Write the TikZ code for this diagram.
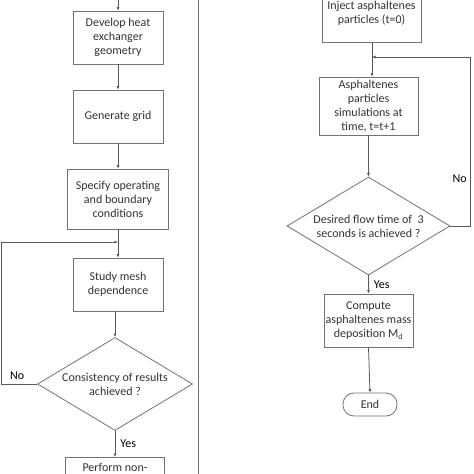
\documentclass[tikz,border=0pt]{standalone}
\usepackage{fontspec}
\setmainfont{Carlito}
\usetikzlibrary{arrows.meta,shapes.geometric,positioning}

\begin{document}
\begin{tikzpicture}[
  x=1pt,y=1pt,
  font=\fontsize{12}{14}\selectfont,
  stage/.style={draw=black!55,line width=.8pt,align=center,inner sep=1pt,text=black!80},
  check/.style={stage,diamond,aspect=1.67,inner sep=0pt},
  flow/.style={draw=black!65,line width=.8pt,-{Latex[length=3.5pt,width=3pt]}}
]
  \clip (0,0) rectangle (474,-474);
  \fill[white] (0,0) rectangle (474,-474);

  % left column
  \node[stage,minimum width=90,minimum height=53] (geom) at (118,-37.5) {Develop heat\\exchanger\\geometry};
  \node[stage,minimum width=90,minimum height=53] (grid) at (118,-116.5) {Generate grid};
  \node[stage,minimum width=101,minimum height=60] (cond) at (118,-199) {Specify operating\\and boundary\\conditions};
  \node[stage,minimum width=90,minimum height=53] (mesh) at (118,-284.5) {Study mesh\\dependence};
  \node[check,minimum width=155,minimum height=93] (consist) at (115,-384) {Consistency of results\\achieved ?};
  \node[stage,minimum width=99,minimum height=20,anchor=north] (perform) at (115,-457) {Perform non-};
  \coordinate (top) at (118,0);
  \coordinate (join) at (118,-242);

  \draw[flow] (top) -- (geom);
  \draw[flow] (geom) -- (grid);
  \draw[flow] (grid) -- (cond);
  \draw[flow] (cond) -- (mesh);
  \draw[flow] (mesh.south -| consist.north) -- (consist.north);
  \draw[flow] (consist.west) -- node[pos=.55,above,inner sep=4pt]{No} (1,-384) |- (join);
  \draw[flow] (consist.south) -- node[right,inner sep=5pt]{Yes} (perform.north);

  % separator
  \draw[black!55,line width=.8pt] (198,0) -- (198,-474);

  % right column
  \node[stage,minimum width=99,minimum height=57] (inject) at (371.5,-13.5) {Inject asphaltenes\\particles (t=0)};
  \node[stage,minimum width=99,minimum height=58] (sim) at (368.5,-106) {Asphaltenes\\particles\\simulations at\\time, t=t+1};
  \node[check,minimum width=163,minimum height=98] (desired) at (368.5,-226) {Desired flow time of\ \ 3\\seconds is achieved ?};
  \node[stage,minimum width=89,minimum height=53] (mass) at (368.5,-320.5) {Compute\\asphaltenes mass\\deposition M\textsubscript{d}};
  \node[stage,rounded corners=11pt,minimum width=54,minimum height=23] (end) at (370,-404.5) {End};
  \coordinate (merge) at (372,-57);

  \draw[flow] (inject.south -| merge) -- (merge |- sim.north);
  \draw[flow] (sim.south) -- (desired.north);
  \draw[flow] (desired.east) -| node[pos=.64,left,inner sep=3pt]{No} (470,-57) -- (merge);
  \draw[flow] (desired.south) -- node[right,inner sep=5pt]{Yes} (mass.north);
  \draw[flow] (mass.south) -- (end.north);
\end{tikzpicture}
\end{document}
